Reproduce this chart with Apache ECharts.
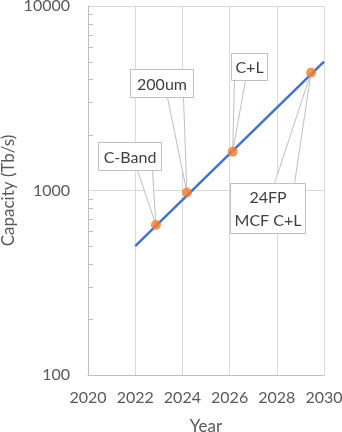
<!DOCTYPE html>
<html>
<head>
<meta charset="utf-8">
<script src="https://cdn.jsdelivr.net/npm/echarts@6/dist/echarts.min.js"></script>
<style>
  html, body { margin: 0; padding: 0; background: #fff; }
  #chart { width: 342px; height: 432px; }
</style>
</head>
<body>
<div id="chart"></div>
<script>
// trend line (Tb/s)
const trendYears = [2022, 2030];
const trendValues = [500, 5000];

// milestones
const milestoneYears = [2022.88, 2024.19, 2026.13, 2029.45];
const milestoneValues = [650, 975, 1620, 4350];
const milestoneLabels = ['C-Band', '200um', 'C+L', '24FP\nMCF C+L'];

// minor ticks on the log axis
const minorTickValues = [200, 300, 400, 500, 600, 700, 800, 900, 2000, 3000, 4000, 5000, 6000, 7000, 8000, 9000];

// callout boxes, pixels relative to the marker; wedge = base x range on the box edge
const calloutLayout = [
  { dx: -58, dy: -83, w: 63, h: 28, wedge: [39, 54], side: 'bottom' },
  { dx: -57, dy: -124, w: 63, h: 28, wedge: [37, 53], side: 'bottom' },
  { dx: -2, dy: -99, w: 36, h: 27, wedge: [3, 14], side: 'bottom' },
  { dx: -81, dy: 110, w: 75, h: 50, wedge: [44, 64], side: 'top' }
];

const FONT = 'Lato, "Open Sans", sans-serif';
const chart = echarts.init(document.getElementById('chart'), null, { renderer: 'canvas' });

const option = {
  animation: false,
  grid: { left: 88, right: 18, top: 6, bottom: 57, containLabel: false, outerBoundsMode: 'none' },
  xAxis: {
    type: 'value',
    min: 2020,
    max: 2030,
    interval: 2,
    name: 'Year',
    nameLocation: 'middle',
    nameGap: 43,
    nameMoveOverlap: false,
    nameTextStyle: { color: '#595959', fontSize: 17, fontFamily: FONT },
    axisLine: { show: true, lineStyle: { color: '#bfbfbf', width: 1 } },
    axisTick: { show: false },
    axisLabel: { color: '#595959', fontSize: 16, fontFamily: FONT, margin: 15, formatter: v => String(v) },
    splitLine: { show: true, lineStyle: { color: '#d9d9d9', width: 1 } }
  },
  yAxis: {
    type: 'log',
    logBase: 10,
    min: 100,
    max: 10000,
    name: 'Capacity (Tb/s)',
    nameLocation: 'middle',
    nameGap: 71,
    nameMoveOverlap: false,
    nameTextStyle: { color: '#595959', fontSize: 17, fontFamily: FONT },
    axisLine: { show: true, lineStyle: { color: '#bfbfbf', width: 1 } },
    axisTick: { show: false },
    axisLabel: { color: '#595959', fontSize: 16, fontFamily: FONT, margin: 18, formatter: v => String(Math.round(v)) },
    splitLine: { show: true, lineStyle: { color: '#d9d9d9', width: 1 } }
  },
  series: [
    {
      // minor ticks drawn inside the y axis
      type: 'custom',
      silent: true,
      z: 1,
      data: minorTickValues.map(v => [2020, v]),
      renderItem: (params, api) => {
        const p = api.coord([api.value(0), api.value(1)]);
        const y = Math.round(p[1]) + 0.5;
        return {
          type: 'line',
          shape: { x1: p[0], y1: y, x2: p[0] + 5, y2: y },
          style: { stroke: '#bfbfbf', lineWidth: 1 }
        };
      }
    },
    {
      type: 'line',
      data: trendYears.map((x, i) => [x, trendValues[i]]),
      showSymbol: false,
      lineStyle: { color: '#4472c4', width: 2.5 },
      z: 2
    },
    {
      // callouts
      type: 'custom',
      silent: true,
      z: 3,
      data: milestoneYears.map((x, i) => [x, milestoneValues[i], i]),
      renderItem: (params, api) => {
        const i = api.value(2);
        const L = calloutLayout[i];
        const p = api.coord([api.value(0), api.value(1)]);
        const bx = Math.round(p[0] + L.dx) + 0.5;
        const by = Math.round(p[1] + L.dy) + 0.5;
        const ey = L.side === 'bottom' ? by + L.h : by;
        const wedge = [[bx + L.wedge[0], ey], p, [bx + L.wedge[1], ey]];
        return {
          type: 'group',
          children: [
            {
              type: 'polygon',
              shape: { points: wedge },
              style: { fill: '#fff', stroke: null }
            },
            {
              type: 'polyline',
              shape: { points: wedge },
              style: { fill: null, stroke: '#bfbfbf', lineWidth: 1 }
            },
            {
              type: 'rect',
              shape: { x: bx, y: by, width: L.w, height: L.h },
              style: { fill: '#fff', stroke: '#bfbfbf', lineWidth: 1 }
            },
            {
              type: 'text',
              style: {
                text: milestoneLabels[i],
                x: bx + L.w / 2,
                y: by + L.h / 2 + 1,
                align: 'center',
                verticalAlign: 'middle',
                fill: '#404040',
                fontSize: 16,
                lineHeight: 23,
                fontFamily: FONT
              }
            }
          ]
        };
      }
    },
    {
      type: 'scatter',
      data: milestoneYears.map((x, i) => [x, milestoneValues[i]]),
      symbol: 'circle',
      symbolSize: 10,
      itemStyle: { color: '#ed7d31' },
      z: 4
    }
  ]
};

chart.setOption(option);
</script>
</body>
</html>
